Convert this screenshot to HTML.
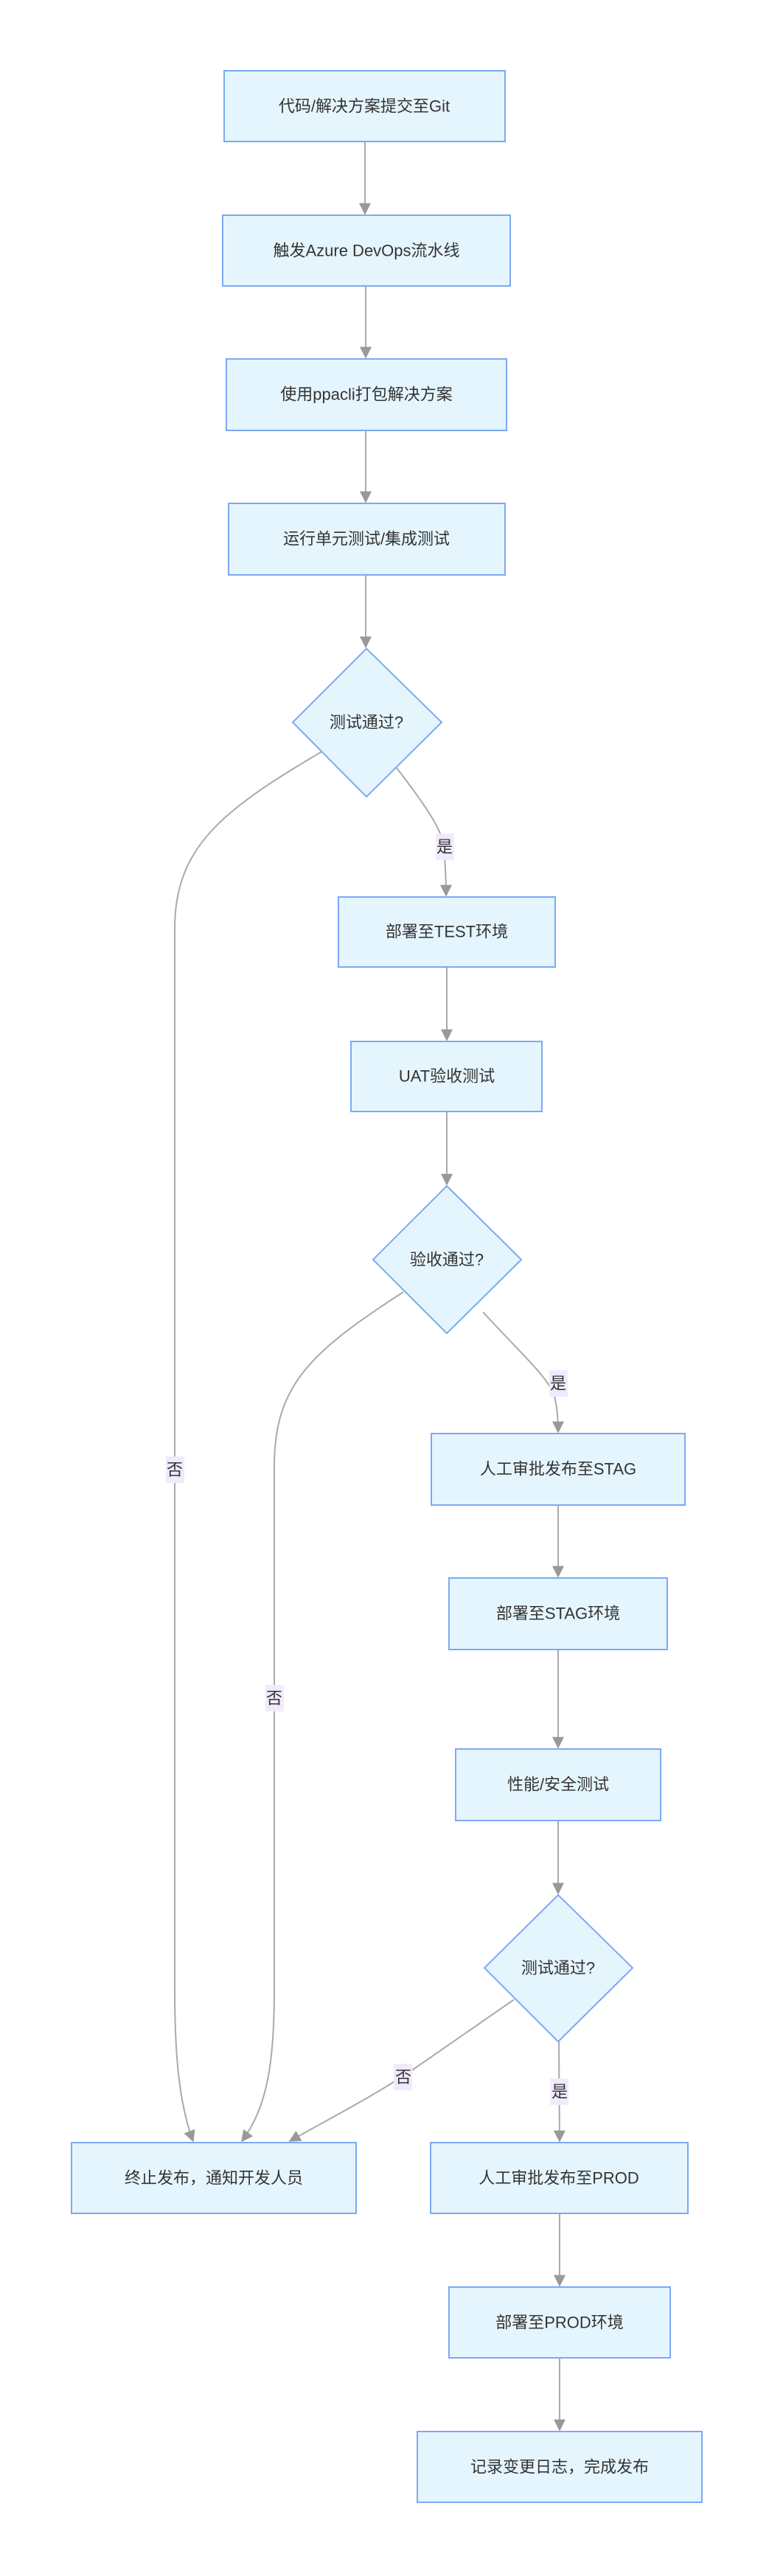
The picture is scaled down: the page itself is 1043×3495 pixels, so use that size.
<!DOCTYPE html>
<html><head><meta charset="utf-8"><style>
html,body{margin:0;padding:0;background:#fff;}
svg text{font-family:"Liberation Sans","Noto Sans CJK SC",sans-serif;fill:#333;font-size:22px;}
</style></head><body>
<svg width="1043" height="3490" viewBox="0 0 1043 3490" xmlns="http://www.w3.org/2000/svg">
<defs>
<marker id="ar" viewBox="0 0 10 10" refX="9" refY="5" markerWidth="16" markerHeight="16" markerUnits="userSpaceOnUse" orient="auto">
<path d="M0,0 L10,5 L0,10 z" fill="#999"/>
</marker>
</defs>
<g fill="none" stroke="#aaa" stroke-width="2" marker-end="url(#ar)">
<path d="M495,192 L495,290"/>
<path d="M496,388 L496,485"/>
<path d="M496,584 L496,681"/>
<path d="M496,780 L496,878"/>
<path d="M538,1042 C575,1090 595,1120 600,1140 C604,1165 605,1190 605,1215"/>
<path d="M436,1020 C300,1100 237,1150 237,1260 L237,2700 C237,2800 245,2860 262,2905"/>
<path d="M606,1312 L606,1411"/>
<path d="M606,1508 L606,1607"/>
<path d="M655,1780 C710,1840 745,1870 752,1895 C756,1910 757,1925 757,1943"/>
<path d="M547,1753 C420,1835 372,1880 372,1990 L372,2700 C372,2800 362,2860 328,2905"/>
<path d="M757,2042 L757,2139"/>
<path d="M757,2238 L757,2371"/>
<path d="M757,2470 L757,2569"/>
<path d="M697,2713 L560,2808 C500,2848 440,2878 393,2905"/>
<path d="M758,2770 L759,2905"/>
<path d="M759,3003 L759,3101"/>
<path d="M759,3199 L759,3297"/>
</g>
<g fill="#e5f5fd" stroke="#7ba9f3" stroke-width="2">
<rect x="304" y="96" width="381" height="96"/>
<rect x="302" y="292" width="390" height="96"/>
<rect x="307" y="487" width="380" height="97"/>
<rect x="310" y="683" width="375" height="97"/>
<polygon points="497,880 599,980 497,1081 397,980"/>
<rect x="459" y="1217" width="294" height="95"/>
<rect x="476" y="1413" width="259" height="95"/>
<polygon points="606,1609 707,1709 606,1809 506,1709"/>
<rect x="585" y="1945" width="344" height="97"/>
<rect x="609" y="2141" width="296" height="97"/>
<rect x="618" y="2373" width="278" height="97"/>
<polygon points="757,2571 858,2670 757,2770 657,2670"/>
<rect x="97" y="2907" width="386" height="96"/>
<rect x="584" y="2907" width="349" height="96"/>
<rect x="609" y="3103" width="300" height="96"/>
<rect x="566" y="3299" width="386" height="96"/>
</g>
<g fill="#f1eafc">
<rect x="591" y="1131" width="25" height="36"/>
<rect x="745" y="1859" width="25" height="36"/>
<rect x="225" y="1976" width="25" height="36"/>
<rect x="360" y="2286" width="25" height="36"/>
<rect x="534" y="2800" width="25" height="36"/>
<rect x="746" y="2820" width="25" height="36"/>
</g>
<g text-anchor="middle" dominant-baseline="central">
<text x="494" y="144">代码/解决方案提交至Git</text>
<text x="497" y="340">触发Azure DevOps流水线</text>
<text x="497" y="535">使用ppacli打包解决方案</text>
<text x="497" y="731">运行单元测试/集成测试</text>
<text x="497" y="980">测试通过?</text>
<text x="606" y="1264">部署至TEST环境</text>
<text x="606" y="1460">UAT验收测试</text>
<text x="606" y="1709">验收通过?</text>
<text x="757" y="1993">人工审批发布至STAG</text>
<text x="757" y="2189">部署至STAG环境</text>
<text x="757" y="2421">性能/安全测试</text>
<text x="757" y="2670">测试通过?</text>
<text x="290" y="2955">终止发布，通知开发人员</text>
<text x="758" y="2955">人工审批发布至PROD</text>
<text x="759" y="3151">部署至PROD环境</text>
<text x="759" y="3347">记录变更日志，完成发布</text>
<text x="603" y="1149">是</text>
<text x="757" y="1877">是</text>
<text x="237" y="1994">否</text>
<text x="372" y="2304">否</text>
<text x="547" y="2818">否</text>
<text x="759" y="2838">是</text>
</g>
</svg>
</body></html>
